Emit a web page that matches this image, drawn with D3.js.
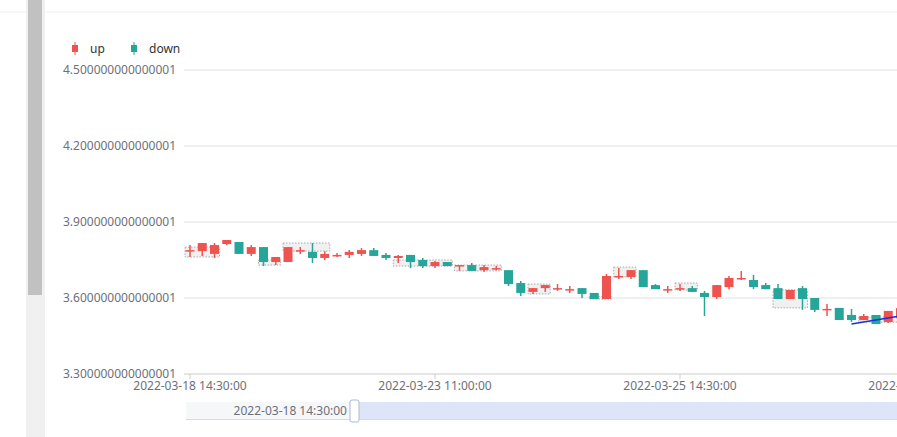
<!DOCTYPE html>
<html><head><meta charset="utf-8">
<script src="https://cdn.jsdelivr.net/npm/d3@7"></script>
<style>body{margin:0;overflow:hidden;background:#fff}svg{font-family:"Noto Sans",sans-serif}</style>
</head><body>
<svg id="chart" width="897" height="437"></svg>
<script>
// [open, close, low, high]
var candles = [
 [3.789,3.789,3.762,3.809],[3.785,3.817,3.766,3.817],[3.774,3.809,3.758,3.817],[3.813,3.829,3.809,3.829],
 [3.821,3.774,3.774,3.821],[3.774,3.801,3.766,3.809],[3.801,3.742,3.726,3.801],[3.742,3.762,3.730,3.762],
 [3.742,3.801,3.742,3.801],[3.789,3.789,3.774,3.801],[3.782,3.758,3.738,3.817],[3.758,3.774,3.750,3.785],
 [3.770,3.770,3.762,3.778],[3.770,3.782,3.758,3.789],[3.774,3.789,3.766,3.797],[3.789,3.766,3.766,3.797],
 [3.770,3.758,3.750,3.778],[3.758,3.766,3.738,3.770],[3.770,3.742,3.718,3.770],[3.750,3.726,3.718,3.758],
 [3.726,3.742,3.718,3.746],[3.742,3.726,3.726,3.742],[3.726,3.730,3.707,3.730],[3.730,3.707,3.707,3.738],
 [3.710,3.722,3.703,3.730],[3.718,3.718,3.710,3.726],[3.710,3.655,3.647,3.710],[3.659,3.620,3.608,3.667],
 [3.624,3.639,3.616,3.639],[3.639,3.651,3.624,3.651],[3.639,3.639,3.628,3.655],[3.635,3.635,3.620,3.647],
 [3.639,3.616,3.600,3.639],[3.620,3.596,3.596,3.620],[3.596,3.687,3.596,3.695],[3.687,3.687,3.675,3.718],
 [3.683,3.710,3.675,3.710],[3.710,3.643,3.643,3.710],[3.651,3.635,3.635,3.655],[3.635,3.635,3.620,3.647],
 [3.639,3.639,3.628,3.655],[3.639,3.624,3.624,3.647],[3.620,3.604,3.529,3.628],[3.604,3.651,3.596,3.651],
 [3.643,3.679,3.635,3.687],[3.679,3.679,3.671,3.707],[3.671,3.643,3.635,3.691],[3.651,3.635,3.635,3.659],
 [3.639,3.596,3.596,3.655],[3.596,3.632,3.596,3.632],[3.639,3.596,3.553,3.647],[3.600,3.553,3.545,3.600],
 [3.557,3.557,3.529,3.576],[3.561,3.513,3.513,3.561],[3.533,3.513,3.505,3.557],[3.513,3.529,3.513,3.537],
 [3.533,3.497,3.497,3.533],[3.505,3.549,3.501,3.549],[3.520,3.560,3.500,3.565]
];
var days = ["2022-03-18","2022-03-21","2022-03-22","2022-03-23","2022-03-24","2022-03-25","2022-03-28","2022-03-29"];
var slots = ["10:00:00","10:30:00","11:00:00","11:30:00","13:30:00","14:00:00","14:30:00","15:00:00"];
var yTicks = [3.3000000000000001,3.6000000000000001,3.9000000000000001,4.2000000000000001,4.5000000000000001];
var yLabels = ["3.300000000000001","3.600000000000001","3.900000000000001","4.200000000000001","4.500000000000001"];
// boxes: [startIdx, endIdx, top, bottom]
var boxes = [[0,2,3.801,3.762],[6,7,3.750,3.730],[8,11,3.817,3.785],[17,21,3.750,3.726],[22,25,3.730,3.707],
 [28,29,3.655,3.616],[33,34,3.605,3.596],[35,36,3.722,3.683],[40,41,3.659,3.632],[48,50,3.632,3.561],[55,58,3.525,3.505]];
var trend = [[54,3.497],[59,3.537]];

var cats = [];
days.forEach(function(d){ slots.forEach(function(s){ cats.push(d+" "+s) }) });
cats = cats.slice(6, 6 + candles.length + 1);

var svg = d3.select("#chart");
var step = 12.25, x0 = 190;
var x = d3.scaleLinear().domain([0,1]).range([x0, x0+step]);
var y = d3.scaleLinear().domain([3.3,4.5]).range([374,70]);
var up = "#ef5350", down = "#26a69a", grey = "#6e7079";

// frame bits
svg.append("rect").attr("x",26).attr("y",0).attr("width",19).attr("height",437).attr("fill","#f0f0f0");
svg.append("rect").attr("x",28).attr("y",0).attr("width",14).attr("height",295).attr("fill","#c1c1c1");
svg.append("line").attr("x1",0).attr("x2",26).attr("y1",12).attr("y2",12).attr("stroke","#eee");
svg.append("line").attr("x1",45).attr("x2",897).attr("y1",12).attr("y2",12).attr("stroke","#eee");

var g = svg.append("g");
yTicks.forEach(function(t,i){
  g.append("line").attr("x1",184).attr("x2",897).attr("y1",y(t)).attr("y2",y(t))
   .attr("stroke", i==0 ? "#ccc" : "#e0e0e0");
  g.append("text").attr("x",176).attr("y",y(t)+4).attr("text-anchor","end")
   .attr("font-size",12).attr("fill",grey).text(yLabels[i]);
});
[0,20,40,60].forEach(function(i){
  g.append("line").attr("x1",x(i)).attr("x2",x(i)).attr("y1",374).attr("y2",379).attr("stroke","#ccc");
  g.append("text").attr("x",x(i)).attr("y",390).attr("text-anchor","middle")
   .attr("font-size",12).attr("fill",grey).text(cats[i] || "2022-03-29 14:30:00");
});

var clip = svg.append("clipPath").attr("id","c").append("rect").attr("x",184).attr("y",60).attr("width",713).attr("height",314);
var plot = svg.append("g").attr("clip-path","url(#c)");

plot.selectAll(".box").data(boxes).enter().append("rect")
  .attr("x",function(d){return x(d[0])-5}).attr("width",function(d){return x(d[1])-x(d[0])+10})
  .attr("y",function(d){return y(d[2])}).attr("height",function(d){return y(d[3])-y(d[2])})
  .attr("fill","#f0f0f0").attr("stroke","#aaa").attr("stroke-dasharray","1.5,1.5");

var c = plot.selectAll(".k").data(candles).enter().append("g");
c.append("line").attr("x1",function(d,i){return x(i)}).attr("x2",function(d,i){return x(i)})
 .attr("y1",function(d){return y(d[3])}).attr("y2",function(d){return y(d[2])})
 .attr("stroke",function(d){return d[1]>=d[0]?up:down}).attr("stroke-width",1.5);
c.append("rect").attr("x",function(d,i){return x(i)-4.5}).attr("width",9)
 .attr("y",function(d){return y(Math.max(d[0],d[1]))})
 .attr("height",function(d){return Math.max(1.5, Math.abs(y(d[0])-y(d[1])))})
 .attr("fill",function(d){return d[1]>=d[0]?up:down});

plot.append("path").datum(trend).attr("fill","none").attr("stroke","#1c2de0").attr("stroke-width",1.5)
 .attr("d", d3.line().x(function(d){return x(d[0])}).y(function(d){return y(d[1])}));

// legend
[["up",up,75],["down",down,134]].forEach(function(l){
  svg.append("line").attr("x1",l[2]).attr("x2",l[2]).attr("y1",42).attr("y2",55).attr("stroke",l[1]);
  svg.append("rect").attr("x",l[2]-3).attr("y",45).attr("width",6).attr("height",7).attr("fill",l[1]);
  svg.append("text").attr("x",l[2]+15).attr("y",53).attr("font-size",12).attr("fill","#333").text(l[0]);
});

// slider
svg.append("rect").attr("x",186).attr("y",402).attr("width",711).attr("height",18).attr("fill","#f6f7f9");
svg.append("rect").attr("x",355).attr("y",402).attr("width",542).attr("height",18).attr("fill","#dfe5f8");
svg.append("line").attr("x1",186).attr("x2",897).attr("y1",419.5).attr("y2",419.5).attr("stroke","#d2dbee");
svg.append("rect").attr("x",350).attr("y",400).attr("width",9).attr("height",22).attr("rx",2)
 .attr("fill","#fff").attr("stroke","#acb8d1");
svg.append("text").attr("x",347).attr("y",415).attr("text-anchor","end").attr("font-size",12).attr("fill",grey).text(cats[0]);
</script>
</body></html>
